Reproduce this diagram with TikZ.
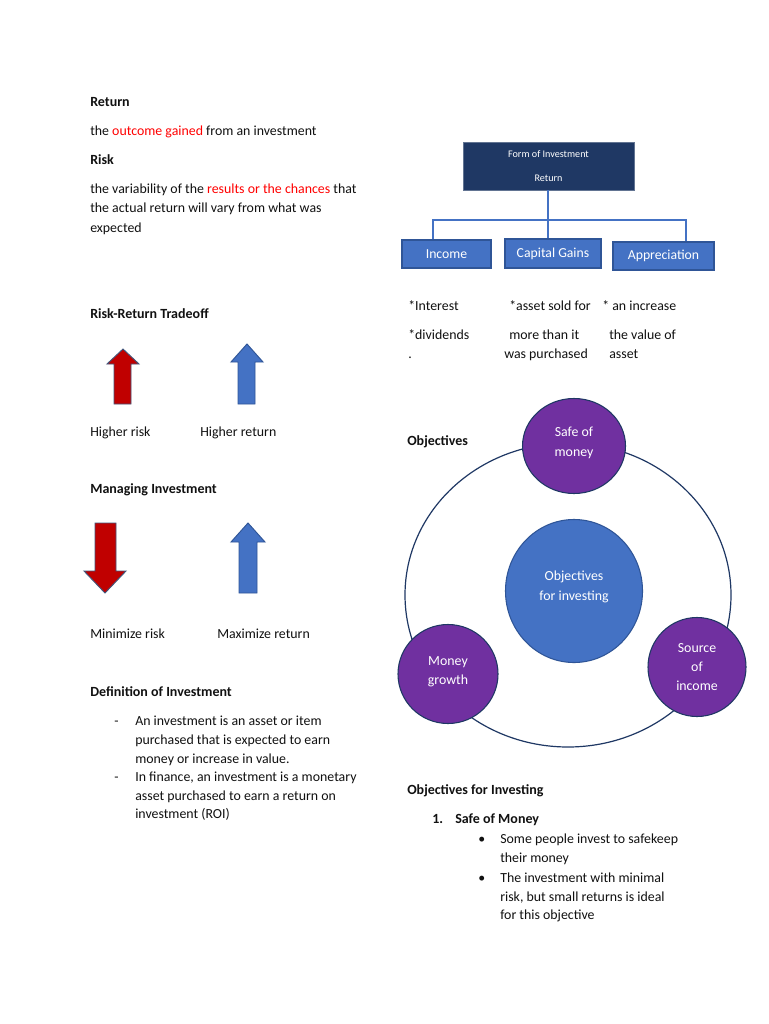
\documentclass[tikz,border=0pt]{standalone}
\usepackage{fontspec}
\setmainfont{Carlito}
\usetikzlibrary{shapes.geometric}
\definecolor{navy}{HTML}{1F3864}
\definecolor{midblue}{HTML}{4472C4}
\definecolor{darkblue}{HTML}{2F5597}
\definecolor{purp}{HTML}{7030A0}
\definecolor{rred}{HTML}{C00000}
\definecolor{tred}{HTML}{FF0000}
\definecolor{ink}{HTML}{111111}
\begin{document}
\begin{tikzpicture}[x=0.75pt,y=-0.75pt,
  txt/.style={anchor=base west, inner sep=0pt, text=ink, font=\fontsize{10.4}{13}\selectfont},
  hd/.style={anchor=base west, inner sep=0pt, text=ink, font=\fontsize{10.5}{13}\selectfont\bfseries},
  cbox/.style={draw=darkblue, fill=midblue, text=white, line width=0.9pt, font=\fontsize{10.3}{12}\selectfont, inner sep=0pt},
  topbox/.style={draw=navy!70, fill=navy, line width=0.6pt, inner sep=0pt},
  toptxt/.style={text=white, inner sep=0pt, font=\fontsize{7.6}{9}\selectfont},
  link/.style={draw=midblue, line width=0.9pt},
  pcirc/.style={ellipse, draw=navy, fill=purp, line width=0.8pt, inner sep=0pt},
  ccirc/.style={ellipse, draw=darkblue, fill=midblue, line width=0.8pt, inner sep=0pt},
  ctxt/.style={text=white, align=center, inner sep=0pt, font=\fontsize{10.4}{14.5}\selectfont},
  redarrow/.style={fill=rred, draw=navy!85, line width=0.7pt, line join=miter},
  bluearrow/.style={fill=midblue, draw=darkblue, line width=0.7pt, line join=miter}
]
\useasboundingbox (0,0) rectangle (768,1024);
\fill[white] (0,0) rectangle (768,1024);

% ---------- left column ----------
\node[hd] (tRet) at (90,107) {Return};
\node[txt] (tRetDef) at (90,135) {the \textcolor{tred}{outcome gained} from an investment};
\node[hd] (tRisk) at (90,164) {Risk};
\node[txt] (tRiskA) at (90,193) {the variability of the \textcolor{tred}{results or the chances} that};
\node[txt] (tRiskB) at (90,212.5) {the actual return will vary from what was};
\node[txt] (tRiskC) at (90,232) {expected};

\node[hd] (tTrade) at (90,318) {Risk-Return Tradeoff};
\filldraw[redarrow] (114,404) -- (114,364) -- (107,364) -- (123,349) -- (139,364) -- (131,364) -- (131,404) -- cycle;
\filldraw[bluearrow] (238,404) -- (238,362) -- (231,362) -- (247,344) -- (263,362) -- (255,362) -- (255,404) -- cycle;
\node[txt] (tHR) at (90,436) {Higher risk};
\node[txt] (tHRet) at (200,436) {Higher return};

\node[hd] (tManage) at (90,493) {Managing Investment};
\filldraw[redarrow] (95,523) -- (116,523) -- (116,571) -- (126,571) -- (105,593) -- (84,571) -- (95,571) -- cycle;
\filldraw[bluearrow] (239,593) -- (239,542) -- (231,542) -- (248,523) -- (265,542) -- (257,542) -- (257,593) -- cycle;
\node[txt] (tMin) at (90,638) {Minimize risk};
\node[txt] (tMax) at (217,638) {Maximize return};

\node[hd] (tDef) at (90,696) {Definition of Investment};
\node[txt] (d1) at (114,725) {-};
\node[txt] (l1) at (135,725) {An investment is an asset or item};
\node[txt] (l2) at (135,744) {purchased that is expected to earn};
\node[txt] (l3) at (135,763) {money or increase in value.};
\node[txt] (d2) at (114,781.5) {-};
\node[txt] (l4) at (135,781.5) {In finance, an investment is a monetary};
\node[txt] (l5) at (135,800) {asset purchased to earn a return on};
\node[txt] (l6) at (135,818) {investment (ROI)};

% ---------- org chart ----------
\node[topbox, minimum width=128.25pt, minimum height=36pt] (form) at (548.5,166) {};
\node[toptxt] (formA) at (548.5,154) {Form of Investment};
\node[toptxt] (formB) at (548.5,178) {Return};

\node[cbox, minimum width=66.75pt, minimum height=21pt] (inc) at (446.5,254) {Income};
\node[cbox, minimum width=72pt, minimum height=21.75pt] (cg) at (553,253.5) {Capital Gains};
\node[cbox, minimum width=75.75pt, minimum height=21pt] (app) at (663.5,256) {Appreciation};

\coordinate (barL) at (433,220);
\coordinate (barM) at (548,220);
\coordinate (barR) at (686,220);
\draw[link] (form.south -| barM) -- (cg.north -| barM);
\draw[link] (inc.north -| barL) -- (barL) -- (barR) -- (app.north -| barR);

\node[txt] (c1a) at (408,310) {*Interest};
\node[txt] (c1b) at (408,339) {*dividends};
\node[txt] (c1c) at (408,358) {.};
\node[txt] (c2a) at (509,310) {*asset sold for};
\node[txt] (c2b) at (509,339) {more than it};
\node[txt] (c2c) at (504,358) {was purchased};
\node[txt] (c3a) at (602,310) {* an increase};
\node[txt] (c3b) at (609,339) {the value of};
\node[txt] (c3c) at (609,358) {asset};

% ---------- objectives ----------
\node[hd] (tObj) at (407,445) {Objectives};
\node[ellipse, draw=navy, line width=0.9pt, minimum width=244.5pt, minimum height=228pt, inner sep=0pt] (ring) at (568,595) {};
\node[ccirc, minimum width=102.75pt, minimum height=107.25pt] (center) at (574,591) {};
\node[ctxt] (centerT) at (574,587) {Objectives\\for investing};
\node[pcirc, minimum width=77.25pt, minimum height=71.25pt] (safe) at (574,446) {};
\node[ctxt] (safeT) at (574,443) {Safe of\\money};
\node[pcirc, minimum width=75pt, minimum height=74.25pt] (growth) at (448,674) {};
\node[ctxt] (growthT) at (448,671.5) {Money\\growth};
\node[pcirc, minimum width=73.5pt, minimum height=74.25pt] (source) at (697,667) {};
\node[ctxt] (sourceT) at (697,667) {Source\\of\\income};

\node[hd] (tObjInv) at (407,794) {Objectives for Investing};
\node[hd] (n1) at (432,823) {1.};
\node[hd] (s1) at (455,823) {Safe of Money};
\node[txt] (b1) at (478,843) {\textbullet};
\node[txt] (b1a) at (500,843) {Some people invest to safekeep};
\node[txt] (b1b) at (500,862) {their money};
\node[txt] (b2) at (478,882) {\textbullet};
\node[txt] (b2a) at (500,882) {The investment with minimal};
\node[txt] (b2b) at (500,901) {risk, but small returns is ideal};
\node[txt] (b2c) at (500,919) {for this objective};
\end{tikzpicture}
\end{document}
